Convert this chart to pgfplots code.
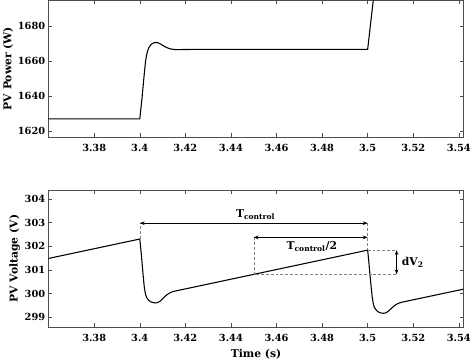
\documentclass[border=0pt]{standalone}
\usepackage{pgfplots}
\pgfplotsset{compat=1.18}
\usepackage{fontspec}
\setmainfont{DejaVu Serif}
\usetikzlibrary{arrows.meta}
\begin{document}
\begin{tikzpicture}
\pgfplotsset{
  every axis/.append style={
    scale only axis, width=422bp, height=139bp,
    xmin=3.36, xmax=3.542,
    xtick={3.38,3.40,3.42,3.44,3.46,3.48,3.50,3.52,3.54},
    tick align=inside, major tick length=3.5pt,
    axis line style={draw=black!70, line width=0.6pt},
    every tick/.style={draw=black!70, line width=0.5pt},
    /pgf/number format/assume math mode=true,
    /pgf/number format/1000 sep={},
    tick label style={font=\fontsize{10}{11}\selectfont\bfseries\boldmath},
    label style={font=\bfseries\fontsize{11}{12}\selectfont},
    xticklabel style={yshift=-4pt},
    clip=true,
  }
}
\begin{axis}[name=top, at={(0,0)}, anchor=south west,
  ymin=1616.8, ymax=1694.6,
  ytick={1620,1640,1660,1680},
  ylabel={PV Power (W)}, ylabel style={yshift=-2pt}]
\addplot[black, line width=1.1pt] coordinates {
(3.36,1627.1) (3.4,1627.1) (3.4005,1633) (3.401,1639) (3.4015,1646) (3.402,1653)
(3.4025,1659.5) (3.403,1663.5) (3.4035,1666) (3.404,1667.7) (3.405,1669.5)
(3.406,1670.3) (3.407,1670.6) (3.408,1670.4) (3.409,1669.8) (3.410,1669.0)
(3.411,1668.2) (3.412,1667.6) (3.413,1667.1) (3.414,1666.8) (3.415,1666.6)
(3.4165,1666.5) (3.42,1666.6) (3.5,1666.7) (3.5025,1695) (3.503,1701)
};
\end{axis}
\begin{axis}[at={(0,-54.3bp)}, anchor=north west,
  ymin=298.585, ymax=304.36,
  ytick={299,300,301,302,303,304},
  ylabel={PV Voltage (V)}, ylabel style={yshift=-2pt},
  xlabel={Time (s)}, xlabel style={yshift=-1pt}]
\addplot[black, line width=1.1pt] coordinates {
(3.36,301.48) (3.4,302.3) (3.4005,301.85) (3.401,301.3) (3.4015,300.75) (3.402,300.25)
(3.4025,299.98) (3.403,299.83) (3.404,299.7) (3.405,299.64) (3.406,299.61)
(3.4072,299.60) (3.408,299.62) (3.409,299.68) (3.410,299.77) (3.411,299.87)
(3.412,299.95) (3.413,300.01) (3.414,300.06) (3.415,300.09) (3.4165,300.12)
(3.5,301.83) (3.5005,301.35) (3.501,300.8) (3.5015,300.3) (3.502,299.85)
(3.5025,299.55) (3.503,299.4) (3.504,299.27) (3.505,299.2) (3.506,299.17)
(3.507,299.16) (3.508,299.18) (3.509,299.24) (3.510,299.33) (3.511,299.42)
(3.512,299.5) (3.513,299.56) (3.514,299.6) (3.515,299.63) (3.516,299.65)
(3.542,300.18)
};
% annotations
\draw[black!50, densely dashed, line width=0.4pt] (axis cs:3.4,302.3) -- (axis cs:3.4,302.97);
\draw[black!50, densely dashed, line width=0.4pt] (axis cs:3.5,302.97) -- (axis cs:3.5,301.83);
\draw[black!50, densely dashed, line width=0.4pt] (axis cs:3.45,302.37) -- (axis cs:3.45,300.81) -- (axis cs:3.5124,300.81);
\draw[black!50, densely dashed, line width=0.4pt] (axis cs:3.5,301.83) -- (axis cs:3.5124,301.83);
\draw[black, line width=0.8pt, {Stealth[length=5pt]}-{Stealth[length=5pt]}] (axis cs:3.4,302.97) -- (axis cs:3.5,302.97);
\draw[black, line width=0.8pt, {Stealth[length=5pt]}-{Stealth[length=5pt]}] (axis cs:3.45,302.37) -- (axis cs:3.5,302.37);
\draw[black, line width=0.8pt, {Stealth[length=5pt]}-{Stealth[length=5pt]}] (axis cs:3.5127,300.81) -- (axis cs:3.5127,301.83);
\node[font=\bfseries\fontsize{11}{12}\selectfont] at (axis cs:3.4508,303.35) {T\textsubscript{control}};
\node[font=\bfseries\fontsize{11}{12}\selectfont] at (axis cs:3.4755,301.98) {T\textsubscript{control}/2};
\node[font=\bfseries\fontsize{11}{12}\selectfont, anchor=west] at (axis cs:3.5135,301.32) {dV\textsubscript{2}};
\end{axis}
\end{tikzpicture}
\end{document}
